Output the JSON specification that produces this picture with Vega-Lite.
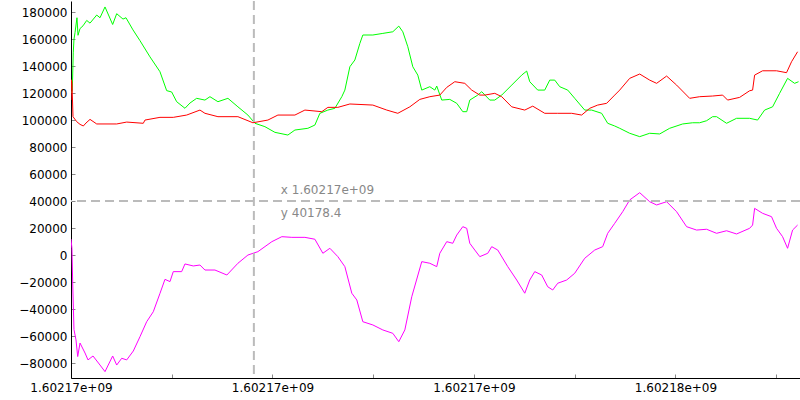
{
  "$schema": "https://vega.github.io/schema/vega-lite/v6.json",
  "width": 729,
  "height": 377,
  "autosize": "none",
  "padding": {"left": 71, "top": 1, "right": 0, "bottom": 22},
  "background": "white",
  "config": {
    "view": {"stroke": null},
    "axis": {
      "domainColor": "black",
      "domainWidth": 1,
      "tickColor": "#888888",
      "tickSize": -4,
      "labelFont": "DejaVu Sans",
      "labelFontSize": 12,
      "labelColor": "black",
      "labelOverlap": false,
      "labelFlush": false,
      "labelBound": false,
      "grid": false,
      "title": null
    }
  },
  "datasets": {
    "lines": [
      {"t":1602167500,"s":"g","v":120000},{"t":1602167516,"s":"g","v":122000},{"t":1602167528,"s":"g","v":150000},{"t":1602167537,"s":"g","v":160000},{"t":1602167550,"s":"g","v":165000},{"t":1602167574,"s":"g","v":176000},{"t":1602167587,"s":"g","v":163000},{"t":1602167612,"s":"g","v":168000},{"t":1602167649,"s":"g","v":170000},{"t":1602167695,"s":"g","v":174000},{"t":1602167736,"s":"g","v":172000},{"t":1602167819,"s":"g","v":178000},{"t":1602167860,"s":"g","v":176000},{"t":1602167922,"s":"g","v":184000},{"t":1602168017,"s":"g","v":171000},{"t":1602168067,"s":"g","v":179000},{"t":1602168145,"s":"g","v":175000},{"t":1602168182,"s":"g","v":176000},{"t":1602168269,"s":"g","v":167000},{"t":1602168356,"s":"g","v":159000},{"t":1602168480,"s":"g","v":147000},{"t":1602168604,"s":"g","v":136000},{"t":1602168687,"s":"g","v":122000},{"t":1602168749,"s":"g","v":121000},{"t":1602168811,"s":"g","v":113800},{"t":1602168914,"s":"g","v":108900},{"t":1602168976,"s":"g","v":112800},{"t":1602169059,"s":"g","v":116300},{"t":1602169162,"s":"g","v":115000},{"t":1602169224,"s":"g","v":117500},{"t":1602169323,"s":"g","v":113800},{"t":1602169447,"s":"g","v":116300},{"t":1602169571,"s":"g","v":110000},{"t":1602169695,"s":"g","v":103900},{"t":1602169782,"s":"g","v":97800},{"t":1602169906,"s":"g","v":95300},{"t":1602170030,"s":"g","v":91100},{"t":1602170191,"s":"g","v":89100},{"t":1602170278,"s":"g","v":92800},{"t":1602170439,"s":"g","v":94100},{"t":1602170526,"s":"g","v":96500},{"t":1602170588,"s":"g","v":105200},{"t":1602170687,"s":"g","v":107600},{"t":1602170774,"s":"g","v":108900},{"t":1602170860,"s":"g","v":117500},{"t":1602170898,"s":"g","v":122400},{"t":1602170960,"s":"g","v":139700},{"t":1602171022,"s":"g","v":144700},{"t":1602171084,"s":"g","v":157000},{"t":1602171121,"s":"g","v":163200},{"t":1602171245,"s":"g","v":163200},{"t":1602171369,"s":"g","v":164400},{"t":1602171493,"s":"g","v":165600},{"t":1602171567,"s":"g","v":169800},{"t":1602171617,"s":"g","v":165600},{"t":1602171679,"s":"g","v":154500},{"t":1602171741,"s":"g","v":139700},{"t":1602171803,"s":"g","v":133500},{"t":1602171852,"s":"g","v":122400},{"t":1602171952,"s":"g","v":124900},{"t":1602172014,"s":"g","v":122400},{"t":1602172038,"s":"g","v":125400},{"t":1602172100,"s":"g","v":115000},{"t":1602172200,"s":"g","v":115500},{"t":1602172286,"s":"g","v":112600},{"t":1602172361,"s":"g","v":106400},{"t":1602172410,"s":"g","v":106400},{"t":1602172448,"s":"g","v":115000},{"t":1602172547,"s":"g","v":118700},{"t":1602172596,"s":"g","v":121200},{"t":1602172696,"s":"g","v":115000},{"t":1602172758,"s":"g","v":115000},{"t":1602172844,"s":"g","v":118700},{"t":1602172968,"s":"g","v":126100},{"t":1602173092,"s":"g","v":133500},{"t":1602173154,"s":"g","v":136500},{"t":1602173192,"s":"g","v":128600},{"t":1602173291,"s":"g","v":122400},{"t":1602173378,"s":"g","v":122400},{"t":1602173440,"s":"g","v":129800},{"t":1602173502,"s":"g","v":129800},{"t":1602173564,"s":"g","v":124900},{"t":1602173663,"s":"g","v":122400},{"t":1602173750,"s":"g","v":116300},{"t":1602173874,"s":"g","v":107600},{"t":1602173960,"s":"g","v":107600},{"t":1602174084,"s":"g","v":105200},{"t":1602174159,"s":"g","v":97800},{"t":1602174246,"s":"g","v":95800},{"t":1602174308,"s":"g","v":94100},{"t":1602174432,"s":"g","v":90400},{"t":1602174556,"s":"g","v":87900},{"t":1602174680,"s":"g","v":90400},{"t":1602174804,"s":"g","v":89900},{"t":1602174928,"s":"g","v":94100},{"t":1602175089,"s":"g","v":97300},{"t":1602175213,"s":"g","v":98200},{"t":1602175300,"s":"g","v":98200},{"t":1602175386,"s":"g","v":99700},{"t":1602175461,"s":"g","v":102700},{"t":1602175510,"s":"g","v":102700},{"t":1602175634,"s":"g","v":97800},{"t":1602175758,"s":"g","v":101500},{"t":1602175920,"s":"g","v":101500},{"t":1602176019,"s":"g","v":100200},{"t":1602176106,"s":"g","v":107600},{"t":1602176205,"s":"g","v":110000},{"t":1602176292,"s":"g","v":120000},{"t":1602176391,"s":"g","v":131100},{"t":1602176478,"s":"g","v":127400},{"t":1602176527,"s":"g","v":128600},
      {"t":1602167500,"s":"r","v":115000},{"t":1602167506,"s":"r","v":130000},{"t":1602167512,"s":"r","v":128000},{"t":1602167525,"s":"r","v":102700},{"t":1602167571,"s":"r","v":99000},{"t":1602167612,"s":"r","v":97000},{"t":1602167653,"s":"r","v":95800},{"t":1602167686,"s":"r","v":98000},{"t":1602167736,"s":"r","v":100700},{"t":1602167819,"s":"r","v":97300},{"t":1602168067,"s":"r","v":97300},{"t":1602168191,"s":"r","v":98700},{"t":1602168397,"s":"r","v":97800},{"t":1602168418,"s":"r","v":100200},{"t":1602168604,"s":"r","v":102200},{"t":1602168769,"s":"r","v":102200},{"t":1602168935,"s":"r","v":103900},{"t":1602169100,"s":"r","v":107600},{"t":1602169162,"s":"r","v":105200},{"t":1602169323,"s":"r","v":102700},{"t":1602169571,"s":"r","v":102700},{"t":1602169757,"s":"r","v":98200},{"t":1602169943,"s":"r","v":100200},{"t":1602170067,"s":"r","v":103900},{"t":1602170278,"s":"r","v":103900},{"t":1602170402,"s":"r","v":107600},{"t":1602170612,"s":"r","v":106400},{"t":1602170687,"s":"r","v":109600},{"t":1602170811,"s":"r","v":109600},{"t":1602170960,"s":"r","v":112100},{"t":1602171245,"s":"r","v":111300},{"t":1602171418,"s":"r","v":107600},{"t":1602171555,"s":"r","v":105200},{"t":1602171704,"s":"r","v":110000},{"t":1602171828,"s":"r","v":115500},{"t":1602171952,"s":"r","v":117500},{"t":1602172076,"s":"r","v":118700},{"t":1602172162,"s":"r","v":124400},{"t":1602172262,"s":"r","v":128600},{"t":1602172386,"s":"r","v":127400},{"t":1602172472,"s":"r","v":122400},{"t":1602172572,"s":"r","v":118700},{"t":1602172634,"s":"r","v":118700},{"t":1602172758,"s":"r","v":120000},{"t":1602172844,"s":"r","v":117500},{"t":1602172968,"s":"r","v":110000},{"t":1602173130,"s":"r","v":107600},{"t":1602173229,"s":"r","v":110500},{"t":1602173378,"s":"r","v":105200},{"t":1602173539,"s":"r","v":105200},{"t":1602173712,"s":"r","v":105200},{"t":1602173836,"s":"r","v":103900},{"t":1602173936,"s":"r","v":108900},{"t":1602174035,"s":"r","v":111300},{"t":1602174146,"s":"r","v":112600},{"t":1602174246,"s":"r","v":118700},{"t":1602174308,"s":"r","v":122400},{"t":1602174432,"s":"r","v":131100},{"t":1602174556,"s":"r","v":134300},{"t":1602174680,"s":"r","v":129800},{"t":1602174766,"s":"r","v":127400},{"t":1602174890,"s":"r","v":132800},{"t":1602175014,"s":"r","v":126100},{"t":1602175176,"s":"r","v":116300},{"t":1602175300,"s":"r","v":117500},{"t":1602175461,"s":"r","v":118000},{"t":1602175585,"s":"r","v":118700},{"t":1602175647,"s":"r","v":115000},{"t":1602175796,"s":"r","v":117000},{"t":1602175920,"s":"r","v":121900},{"t":1602175957,"s":"r","v":122400},{"t":1602175982,"s":"r","v":133500},{"t":1602176081,"s":"r","v":136700},{"t":1602176254,"s":"r","v":136700},{"t":1602176378,"s":"r","v":135300},{"t":1602176440,"s":"r","v":143400},{"t":1602176515,"s":"r","v":150800},
      {"t":1602167500,"s":"m","v":12000},{"t":1602167512,"s":"m","v":5000},{"t":1602167521,"s":"m","v":-20500},{"t":1602167537,"s":"m","v":-55000},{"t":1602167562,"s":"m","v":-62700},{"t":1602167583,"s":"m","v":-75000},{"t":1602167612,"s":"m","v":-65000},{"t":1602167674,"s":"m","v":-72400},{"t":1602167711,"s":"m","v":-77500},{"t":1602167773,"s":"m","v":-74600},{"t":1602167860,"s":"m","v":-81300},{"t":1602167922,"s":"m","v":-86200},{"t":1602168017,"s":"m","v":-74600},{"t":1602168067,"s":"m","v":-81300},{"t":1602168129,"s":"m","v":-76300},{"t":1602168191,"s":"m","v":-77500},{"t":1602168273,"s":"m","v":-70900},{"t":1602168356,"s":"m","v":-60300},{"t":1602168439,"s":"m","v":-49200},{"t":1602168521,"s":"m","v":-41800},{"t":1602168604,"s":"m","v":-28200},{"t":1602168666,"s":"m","v":-17800},{"t":1602168728,"s":"m","v":-19500},{"t":1602168769,"s":"m","v":-12100},{"t":1602168873,"s":"m","v":-12100},{"t":1602168914,"s":"m","v":-6400},{"t":1602169017,"s":"m","v":-7900},{"t":1602169100,"s":"m","v":-7200},{"t":1602169162,"s":"m","v":-10900},{"t":1602169286,"s":"m","v":-10900},{"t":1602169434,"s":"m","v":-14600},{"t":1602169571,"s":"m","v":-5900},{"t":1602169695,"s":"m","v":200},{"t":1602169819,"s":"m","v":2700},{"t":1602169992,"s":"m","v":10100},{"t":1602170116,"s":"m","v":13800},{"t":1602170240,"s":"m","v":13300},{"t":1602170402,"s":"m","v":13300},{"t":1602170526,"s":"m","v":11900},{"t":1602170625,"s":"m","v":1500},{"t":1602170712,"s":"m","v":5200},{"t":1602170811,"s":"m","v":-1000},{"t":1602170898,"s":"m","v":-8400},{"t":1602170984,"s":"m","v":-28100},{"t":1602171046,"s":"m","v":-33100},{"t":1602171121,"s":"m","v":-49200},{"t":1602171245,"s":"m","v":-51600},{"t":1602171369,"s":"m","v":-55300},{"t":1602171493,"s":"m","v":-57800},{"t":1602171567,"s":"m","v":-64000},{"t":1602171642,"s":"m","v":-55300},{"t":1602171728,"s":"m","v":-30700},{"t":1602171852,"s":"m","v":-4700},{"t":1602171952,"s":"m","v":-5900},{"t":1602172038,"s":"m","v":-8400},{"t":1602172076,"s":"m","v":1500},{"t":1602172162,"s":"m","v":10100},{"t":1602172237,"s":"m","v":8900},{"t":1602172286,"s":"m","v":15000},{"t":1602172361,"s":"m","v":21200},{"t":1602172410,"s":"m","v":20000},{"t":1602172448,"s":"m","v":8900},{"t":1602172510,"s":"m","v":3900},{"t":1602172572,"s":"m","v":-1000},{"t":1602172671,"s":"m","v":1500},{"t":1602172720,"s":"m","v":6400},{"t":1602172795,"s":"m","v":3900},{"t":1602172919,"s":"m","v":-8400},{"t":1602173030,"s":"m","v":-18300},{"t":1602173130,"s":"m","v":-28100},{"t":1602173192,"s":"m","v":-18300},{"t":1602173254,"s":"m","v":-12100},{"t":1602173340,"s":"m","v":-14600},{"t":1602173415,"s":"m","v":-23300},{"t":1602173477,"s":"m","v":-25700},{"t":1602173539,"s":"m","v":-20700},{"t":1602173650,"s":"m","v":-18300},{"t":1602173750,"s":"m","v":-13300},{"t":1602173874,"s":"m","v":-2200},{"t":1602173998,"s":"m","v":3900},{"t":1602174097,"s":"m","v":6400},{"t":1602174159,"s":"m","v":16300},{"t":1602174246,"s":"m","v":23700},{"t":1602174345,"s":"m","v":32300},{"t":1602174432,"s":"m","v":41000},{"t":1602174556,"s":"m","v":46400},{"t":1602174680,"s":"m","v":39700},{"t":1602174766,"s":"m","v":37300},{"t":1602174890,"s":"m","v":39700},{"t":1602175014,"s":"m","v":32300},{"t":1602175138,"s":"m","v":21200},{"t":1602175262,"s":"m","v":18700},{"t":1602175386,"s":"m","v":19300},{"t":1602175510,"s":"m","v":16300},{"t":1602175634,"s":"m","v":18200},{"t":1602175758,"s":"m","v":15800},{"t":1602175920,"s":"m","v":20000},{"t":1602175957,"s":"m","v":22400},{"t":1602175982,"s":"m","v":34800},{"t":1602176081,"s":"m","v":31100},{"t":1602176192,"s":"m","v":28600},{"t":1602176254,"s":"m","v":20000},{"t":1602176329,"s":"m","v":13800},{"t":1602176391,"s":"m","v":5200},{"t":1602176453,"s":"m","v":18700},{"t":1602176515,"s":"m","v":22400}
    ],
    "crossx": [{"t": 1602169769}],
    "crossy": [{"v": 40178.4}],
    "labels": [
      {"t": 1602170104, "v": 48400, "text": "x 1.60217e+09"},
      {"t": 1602170104, "v": 31300, "text": "y 40178.4"}
    ]
  },
  "layer": [
    {
      "data": {"name": "lines"},
      "mark": {"type": "line", "strokeWidth": 1, "clip": true},
      "encoding": {
        "x": {
          "field": "t", "type": "quantitative",
          "scale": {"domain": [1602167500, 1602176545], "nice": false, "zero": false},
          "axis": {
            "values": [1602167500, 1602168750, 1602170000, 1602171250, 1602172500, 1602173750, 1602175000, 1602176250],
            "tickCount": 30,
            "labelExpr": "datum.value % 2500 == 0 ? replace(format(datum.value, '.6'), 'e+9', 'e+09') : ''",
            "labelPadding": 8
          }
        },
        "y": {
          "field": "v", "type": "quantitative",
          "scale": {"domain": [-90900, 188400], "nice": false, "zero": false},
          "axis": {
            "values": [-80000, -60000, -40000, -20000, 0, 20000, 40000, 60000, 80000, 100000, 120000, 140000, 160000, 180000],
            "tickCount": 30,
            "format": "d",
            "labelPadding": 8
          }
        },
        "color": {
          "field": "s", "type": "nominal",
          "scale": {"domain": ["g", "r", "m"], "range": ["#00ff00", "#ff0000", "#ff00ff"]},
          "legend": null
        }
      }
    },
    {
      "data": {"name": "crossx"},
      "mark": {"type": "rule", "color": "#bbbbbb", "strokeWidth": 2, "strokeDash": [9, 5]},
      "encoding": {
        "x": {"field": "t", "type": "quantitative"}
      }
    },
    {
      "data": {"name": "crossy"},
      "mark": {"type": "rule", "color": "#bbbbbb", "strokeWidth": 2, "strokeDash": [9, 5]},
      "encoding": {
        "y": {"field": "v", "type": "quantitative"}
      }
    },
    {
      "data": {"name": "labels"},
      "mark": {"type": "text", "align": "left", "baseline": "middle", "font": "DejaVu Sans", "fontSize": 12, "color": "#888888"},
      "encoding": {
        "x": {"field": "t", "type": "quantitative"},
        "y": {"field": "v", "type": "quantitative"},
        "text": {"field": "text"}
      }
    }
  ]
}
